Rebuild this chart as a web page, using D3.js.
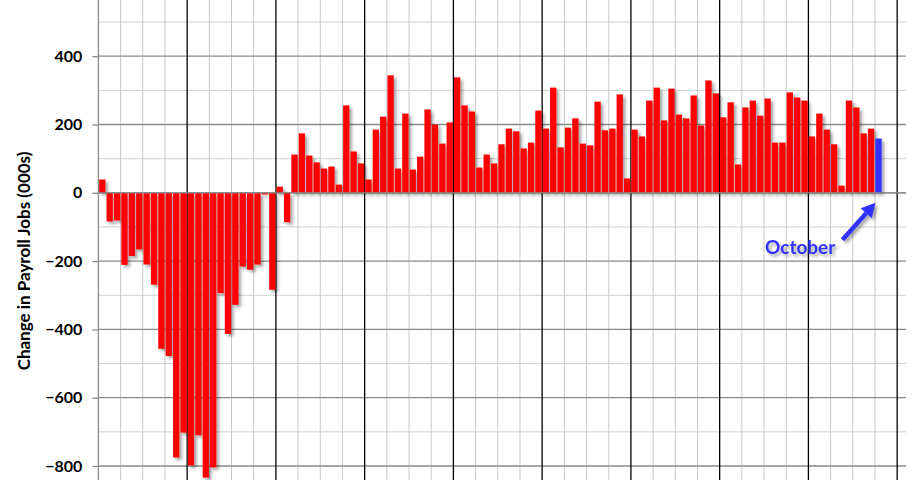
<!DOCTYPE html>
<html>
<head>
<meta charset="utf-8">
<script src="https://cdn.jsdelivr.net/npm/d3@7/dist/d3.min.js"></script>
<style>
  html, body { margin: 0; padding: 0; background: #ffffff; }
  svg { display: block; }
  text { font-family: Lato, "Open Sans", "DejaVu Sans", sans-serif; }
</style>
</head>
<body>
<svg id="chart" width="916" height="480"></svg>
<script>
// ---- Data (monthly change in payroll jobs, thousands) ----
const startMonth = new Date(2008, 0, 1);
const endMonth = new Date(2016, 10, 1); // exclusive
const jobs2008 = [39, -84, -81, -211, -185, -166, -210, -269, -457, -478, -775, -702];
const jobs2009 = [-798, -710, -834, -804, -294, -413, -328, -216, -225, -210, -5, -284];
const jobs2010 = [18, -86, 112, 174, 109, 89, 71, 77, 24, 256, 121, 86];
const jobs2011 = [39, 185, 223, 344, 71, 232, 68, 106, 244, 200, 144, 206];
const jobs2012 = [338, 256, 238, 74, 112, 86, 142, 188, 180, 130, 147, 241];
const jobs2013 = [188, 308, 133, 191, 218, 144, 139, 267, 183, 188, 288, 42];
const jobs2014 = [185, 165, 270, 308, 212, 305, 229, 218, 285, 197, 329, 291];
const jobs2015 = [221, 265, 83, 250, 270, 226, 276, 147, 147, 294, 279, 270];
const jobs2016 = [165, 232, 185, 142, 21, 270, 250, 174, 188, 159];
const yTicks = [-800, -600, -400, -200, 0, 200, 400];
const yMinor = [-700, -500, -300, -100, 100, 300, 500];
const yTitle = "Change in Payroll Jobs (000s)";
const noteText = "October";

const values = [].concat(jobs2008, jobs2009, jobs2010, jobs2011, jobs2012,
                         jobs2013, jobs2014, jobs2015, jobs2016);
const months = d3.timeMonth.range(startMonth, endMonth);
const data = months.map((m, i) => ({ month: m, value: values[i] }));

// ---- Layout ----
const W = 916, H = 480;
const left = 98.4, step = 7.396, nSlots = 109.2;
const svg = d3.select("#chart");

const defs = svg.append("defs");
const f = defs.append("filter").attr("id", "shadow")
  .attr("x", "-50%").attr("y", "-10%").attr("width", "200%").attr("height", "130%");
f.append("feDropShadow").attr("dx", 2.5).attr("dy", 2.5).attr("stdDeviation", 1.4)
  .attr("flood-color", "#000").attr("flood-opacity", 0.35);

// index scale (slot boundaries)
const xi = d3.scaleLinear().domain([0, nSlots]).range([left, left + nSlots * step]);
const right = xi(nSlots);
// band scale for bars
const x = d3.scaleBand()
  .domain(months.map(d => +d))
  .range([xi(0), xi(months.length)])
  .paddingInner(0.15).paddingOuter(0.1);
const y = d3.scaleLinear().domain([-800, 400]).range([466, 56.2]);

const grid = svg.append("g");
// minor horizontal
grid.selectAll("line.hmin").data(yMinor).join("line")
  .attr("x1", left).attr("x2", right)
  .attr("y1", d => y(d)).attr("y2", d => y(d))
  .attr("stroke", "#d0d0d0").attr("stroke-width", 1);
// quarter vertical lines
const quarters = d3.range(3, nSlots, 3).filter(q => q % 12 !== 0);
grid.selectAll("line.vq").data(quarters).join("line")
  .attr("x1", d => xi(d)).attr("x2", d => xi(d))
  .attr("y1", 0).attr("y2", H)
  .attr("stroke", "#c8c8c8").attr("stroke-width", 1);
// major horizontal
grid.selectAll("line.hmaj").data(yTicks).join("line")
  .attr("x1", left).attr("x2", right)
  .attr("y1", d => y(d)).attr("y2", d => y(d))
  .attr("stroke", "#8a8a8a").attr("stroke-width", 1.3);
// year vertical lines
const yearsIdx = d3.range(12, nSlots, 12);
grid.selectAll("line.vy").data(yearsIdx).join("line")
  .attr("x1", d => xi(d)).attr("x2", d => xi(d))
  .attr("y1", 0).attr("y2", H)
  .attr("stroke", "#000").attr("stroke-width", 1.3);

// bars
svg.append("g").attr("filter", "url(#shadow)")
  .selectAll("rect").data(data).join("rect")
  .attr("x", d => x(+d.month))
  .attr("width", x.bandwidth())
  .attr("y", d => Math.min(y(d.value), y(0)))
  .attr("height", d => Math.abs(y(d.value) - y(0)))
  .attr("fill", (d, i) => i === data.length - 1 ? "#3333ff" : "#ff0000");

// zero line
svg.append("line")
  .attr("x1", left).attr("x2", right).attr("y1", y(0)).attr("y2", y(0))
  .attr("stroke", "#8a8a8a").attr("stroke-width", 1.3);

// y axis
const yAxis = d3.axisLeft(y).tickValues(yTicks).tickSize(6).tickPadding(10).tickSizeOuter(0);
const ag = svg.append("g").attr("transform", `translate(${left},0)`).call(yAxis);
ag.select(".domain").remove();
ag.selectAll(".tick line").attr("stroke", "#8a8a8a").attr("stroke-width", 1.3);
ag.selectAll(".tick text").attr("font-family", "Lato, sans-serif").attr("font-weight", "bold")
  .attr("font-size", 16).attr("fill", "#000");
svg.append("line").attr("x1", left).attr("x2", left).attr("y1", 0).attr("y2", H)
  .attr("stroke", "#8a8a8a").attr("stroke-width", 1.3);

// y title
svg.append("text")
  .attr("transform", `translate(29.5,261) rotate(-90)`)
  .attr("text-anchor", "middle")
  .attr("font-size", 17).attr("font-weight", "bold").attr("fill", "#000")
  .text(yTitle);

// annotation
const last = data[data.length - 1];
const tipX = x(+last.month) + x.bandwidth() / 2 - 3, tipY = y(0) + 10;
const tailX = tipX - 33, tailY = tipY + 37;
const ann = svg.append("g").attr("filter", "url(#shadow)");
const ang = Math.atan2(tipY - tailY, tipX - tailX);
const hl = 14, hw = 7.5;
const bx = tipX - hl * Math.cos(ang), by = tipY - hl * Math.sin(ang);
ann.append("line").attr("x1", tailX).attr("y1", tailY).attr("x2", bx).attr("y2", by)
  .attr("stroke", "#3333ff").attr("stroke-width", 4.5);
ann.append("polygon")
  .attr("points", [
    [tipX, tipY],
    [bx + hw * Math.sin(ang), by - hw * Math.cos(ang)],
    [bx - hw * Math.sin(ang), by + hw * Math.cos(ang)]
  ].map(p => p.join(",")).join(" "))
  .attr("fill", "#3333ff");
ann.append("text").attr("x", 765).attr("y", 254)
  .attr("font-size", 19).attr("font-weight", "bold").attr("fill", "#3333ff")
  .text(noteText);
</script>
</body>
</html>
